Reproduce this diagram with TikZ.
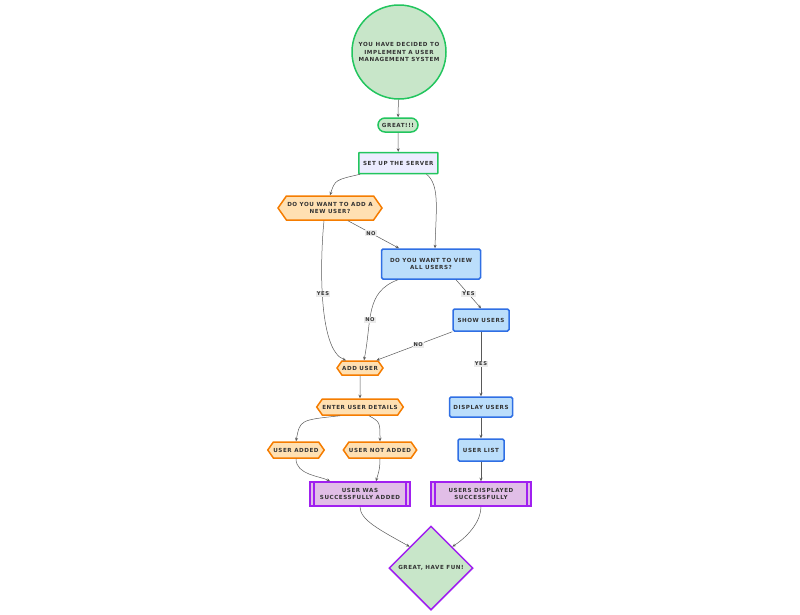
\documentclass[tikz,border=0pt]{standalone}
\usepackage{fontspec}
\setmainfont{DejaVu Sans}[LetterSpace=10]
\usetikzlibrary{shapes.geometric,shapes.symbols,arrows.meta}
\definecolor{gfill}{HTML}{C8E6C9}\definecolor{gline}{HTML}{22C55E}
\definecolor{ofill}{HTML}{FFE0B2}\definecolor{oline}{HTML}{F57C00}
\definecolor{bfill}{HTML}{BBDEFB}\definecolor{bline}{HTML}{2F6FE4}
\definecolor{pfill}{HTML}{E1BEE7}\definecolor{pline}{HTML}{A020F0}
\definecolor{lav}{HTML}{ECECFF}\definecolor{txt}{HTML}{333333}
\begin{document}
\begin{tikzpicture}[x=1pt,y=-1pt,
 base/.style={font=\fontsize{5.6}{7.5}\selectfont\bfseries, text=txt, align=center, line width=1.5pt, inner sep=0pt},
 gbox/.style={base, draw=gline, fill=gfill},
 hexa/.style={base, draw=oline, fill=ofill, signal, signal to=west and east, signal from=nowhere, signal pointer angle=110},
 bbox/.style={base, draw=bline, fill=bfill, rounded corners=1.5pt},
 sub/.style={base, draw=pline, fill=pfill, path picture={
   \draw[pline,line width=1.5pt] ([xshift=4pt]path picture bounding box.north west) -- ([xshift=4pt]path picture bounding box.south west);
   \draw[pline,line width=1.5pt] ([xshift=-4pt]path picture bounding box.north east) -- ([xshift=-4pt]path picture bounding box.south east);}},
 ed/.style={draw=black!65, line width=0.5pt, -{Stealth[length=3.5pt,width=3pt]}},
 lab/.style={font=\fontsize{5.2}{6}\selectfont\bfseries, text=txt, fill=black!8, inner sep=1pt}]
\useasboundingbox (0,0) rectangle (800,614);
\node[gbox, circle, minimum size=94pt] (start) at (399,52) {YOU HAVE DECIDED TO\\IMPLEMENT A USER\\MANAGEMENT SYSTEM};
\node[gbox, rounded corners=7pt, minimum width=40pt, minimum height=14pt] (great) at (398,125) {GREAT!!!};
\node[gbox, fill=lav, rounded corners=0.5pt, minimum width=79pt, minimum height=21pt] (server) at (398.3,163) {SET UP THE SERVER};
\node[hexa, minimum width=104pt, minimum height=24pt] (addq) at (330,208) {DO YOU WANT TO ADD A\\NEW USER?};
\node[bbox, minimum width=99pt, minimum height=30pt] (viewq) at (431,264) {DO YOU WANT TO VIEW\\ALL USERS?};
\node[bbox, minimum width=56pt, minimum height=22pt] (show) at (481,320) {SHOW USERS};
\node[hexa, minimum width=46pt, minimum height=14pt] (adduser) at (360,368) {ADD USER};
\node[hexa, minimum width=84pt, minimum height=16pt] (enter) at (360,407) {ENTER USER DETAILS};
\node[hexa, minimum width=54pt, minimum height=16pt] (added) at (296,450) {USER ADDED};
\node[hexa, minimum width=70pt, minimum height=16pt] (notadded) at (380,450) {USER NOT ADDED};
\node[bbox, minimum width=63pt, minimum height=20pt] (display) at (481,407) {DISPLAY USERS};
\node[bbox, minimum width=46pt, minimum height=22pt] (list) at (481,450) {USER LIST};
\node[sub, minimum width=100pt, minimum height=24pt] (was) at (360,494) {USER WAS\\SUCCESSFULLY ADDED};
\node[sub, minimum width=100pt, minimum height=24pt] (disp) at (481,494) {USERS DISPLAYED\\SUCCESSFULLY};
\node[base, diamond, draw=pline, fill=gfill, minimum width=84pt, minimum height=84pt, inner sep=0pt] (fun) at (431,568) {GREAT, HAVE FUN!};
\draw[ed] (start) -- (great);
\draw[ed] (great) -- (server);
\draw[ed] (server.south west)++(2,0) .. controls (335,180) .. (addq.north);
\draw[ed] ([xshift=-12pt]server.south east) .. controls (440,185) and (436,210) .. ([xshift=4pt]viewq.north);
\draw[ed] ([xshift=18pt]addq.south) -- node[lab,pos=0.45]{NO} ([xshift=-32pt]viewq.north);
\draw[ed] ([xshift=-6pt]addq.south) .. controls (320,260) and (318,350) .. ([xshift=-14pt]adduser.north);
\node[lab] at (323,294) {YES};
\draw[ed] ([xshift=25pt]viewq.south) -- node[lab,pos=0.5]{YES} (show.north);
\draw[ed] ([xshift=-33pt]viewq.south) .. controls (365,292) and (372,320) .. ([xshift=4pt]adduser.north);
\node[lab] at (370,320) {NO};
\draw[ed] (show.south west) -- node[lab,pos=0.45]{NO} ([xshift=-2pt]adduser.north east);
\draw[ed] (show) -- node[lab]{YES} (display);
\draw[ed] (adduser) -- (enter);
\draw[ed] ([xshift=-20pt]enter.south) .. controls (300,420) .. (added.north);
\draw[ed] ([xshift=9pt]enter.south) .. controls (380,422) .. (notadded.north);
\draw[ed] (added.south) .. controls (296,475) and (320,476) .. ([xshift=-30pt]was.north);
\draw[ed] (notadded.south) .. controls (380,470) and (378,474) .. ([xshift=16pt]was.north);
\draw[ed] (display) -- (list);
\draw[ed] (list) -- (disp);
\draw[ed] (was.south) .. controls (360,520) and (380,530) .. (fun.north west);
\draw[ed] (disp.south) .. controls (481,520) and (470,535) .. (fun.north east);
\end{tikzpicture}
\end{document}
